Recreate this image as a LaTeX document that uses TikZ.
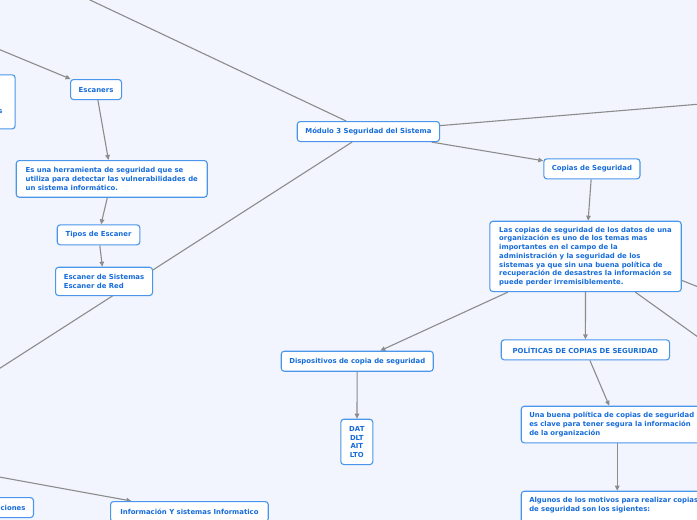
\documentclass[tikz,border=0pt]{standalone}
\usepackage{fontspec}
\setmainfont{DejaVu Sans}
\usepackage{xcolor}
\usetikzlibrary{arrows.meta,backgrounds}

\definecolor{fondo}{RGB}{242,245,254}
\definecolor{borde}{RGB}{74,150,235}
\definecolor{texto}{RGB}{22,108,218}
\definecolor{enlace}{RGB}{140,140,140}

\begin{document}
\begin{tikzpicture}[->,>={Triangle[length=5pt,width=4.5pt]},x=1pt,y=-1pt,
                    every edge/.style={draw=enlace,line width=1.1pt}]
\tikzstyle{tema}=[draw=borde,line width=1.1pt,fill=white,rounded corners=3pt,
                  text=texto,font=\fontsize{6.9}{8.7}\selectfont\bfseries,
                  inner xsep=8pt,inner ysep=3pt,minimum height=20pt,
                  anchor=north west,align=center]
\tikzstyle{nota}=[tema,align=left]
\useasboundingbox (0,0) rectangle (697,520);

% rama izquierda
\node[tema,anchor=north east,minimum height=54] (amenazas) at (15.7,74.3) {\strut\\\strut\\s\hspace*{4.7pt}};
\node[tema,minimum width=51] (escaners) at (70,79) {Escaners};
\node[nota,minimum width=191,minimum height=36.7] (herramienta) at (15.7,160)
  {Es una herramienta de seguridad que se\\utiliza para detectar las vulnerabilidades de\\un sistema informático.};
\node[tema,minimum width=82.6] (tipos) at (56.7,224.3) {Tipos de Escaner};
\node[nota,minimum width=97,minimum height=28.3] (escanerTipos) at (55,266.7) {Escaner de Sistemas\\Escaner de Red};
\node[tema,anchor=north east] (opciones) at (34,497) {ciones};
\node[tema,minimum width=157.7] (informacion) at (110,501) {Información Y sistemas Informatico};

% centro
\node[tema,minimum width=142.3] (modulo) at (296.7,121) {Módulo 3 Seguridad del Sistema};

% rama derecha
\node[tema,minimum width=96] (copias) at (543.3,158.3) {Copias de Seguridad};
\node[nota,minimum width=191.4,minimum height=70.3] (lascopias) at (489.3,220.7)
  {Las copias de seguridad de los datos de una\\organización es uno de los temas mas\\importantes en el campo de la\\administración y la seguridad de los\\sistemas ya que sin una buena política de\\recuperación de desastres la información se\\puede perder irremisiblemente.};
\node[tema,minimum width=152] (dispositivos) at (280.7,350.7) {Dispositivos de copia de seguridad};
\node[tema,minimum width=32,minimum height=45.3] (formatos) at (340.3,418.7) {DAT\\DLT\\AIT\\LTO};
\node[tema,minimum width=168.3] (politicas) at (500.7,339.3) {POLÍTICAS DE COPIAS DE SEGURIDAD};
\node[nota,text width=176,minimum height=36.6] (buena) at (520.7,405.7)
  {Una buena política de copias de seguridad\\es clave para tener segura la información\\de la organización};
\node[nota,text width=190,inner ysep=6pt] (motivos) at (520.7,490.7)
  {Algunos de los motivos para realizar copias\\de seguridad son los sigientes:\\\strut};

% ramas que siguen fuera del cuadro
\coordinate (modArriba) at (60,-14.2);
\coordinate (escIzq) at (-20,41.5);
\coordinate (modIzq) at (-20,381);
\coordinate (modDer) at (720,102.4);
\coordinate (copDer1) at (740,303.5);
\coordinate (copDer2) at (730,360);
\coordinate (infIzq) at (-20,473.5);

\begin{scope}[on background layer]
\fill[fondo,-] (0,0) rectangle (697,520);
\path (modArriba) edge[-] (modulo)
      (modulo) edge[-] (modIzq) edge[-] (modDer) edge (copias)
      (escIzq) edge (escaners)
      (escaners) edge (herramienta)
      (herramienta) edge (tipos)
      (tipos) edge (escanerTipos)
      (copias) edge (lascopias)
      (lascopias) edge (dispositivos) edge (politicas) edge[-] (copDer2)
      (lascopias.-14.7) edge[-] (copDer1)
      (dispositivos) edge (formatos)
      (politicas) edge (buena)
      (buena.south) edge (buena.south |- motivos.north)
      (infIzq) edge (informacion);
\end{scope}
\end{tikzpicture}
\end{document}
